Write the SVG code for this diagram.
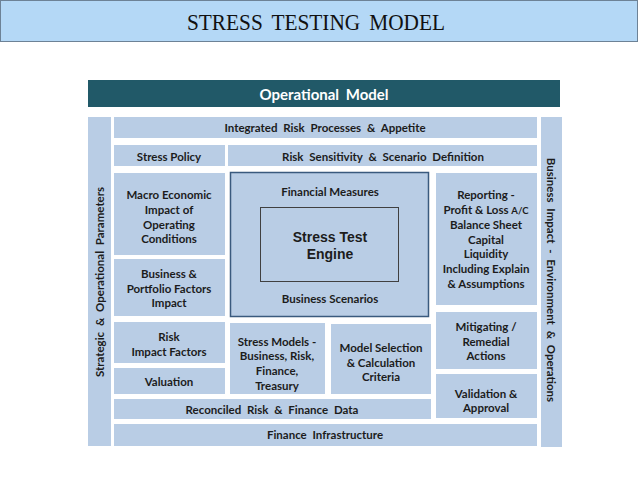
<svg xmlns="http://www.w3.org/2000/svg" width="638" height="478" viewBox="0 0 638 478">
<style>
.b{fill:#b9cde5}
.t{font-family:Lato,"Liberation Sans",sans-serif;font-weight:bold;font-size:11.5px;fill:#1c1c1c;text-anchor:middle}
.w{word-spacing:3px}
.e{font-family:"Liberation Sans",Arial,sans-serif;font-weight:bold;font-size:14px;fill:#1c1c1c;text-anchor:middle}
</style>
<rect width="638" height="478" fill="#ffffff"/>
<g id="title">
<rect x="0.5" y="0.5" width="637" height="41" fill="#b4d8f6" stroke="#6d8296" stroke-width="1"/>
<text x="316" y="30" font-family="Liberation Serif,serif" font-size="23" fill="#111" text-anchor="middle" word-spacing="4" textLength="258" lengthAdjust="spacingAndGlyphs">STRESS TESTING MODEL</text>
</g>
<g id="operational-model">
<rect x="88" y="80" width="472" height="27" fill="#215968"/>
<text x="324" y="100" font-family="Lato,sans-serif" font-weight="bold" font-size="15" fill="#ffffff" text-anchor="middle" word-spacing="3">Operational Model</text>
</g>
<g id="strategic">
<rect class="b" x="88" y="117" width="23" height="329"/>
<text class="t w" transform="translate(104,282) rotate(-90)">Strategic &amp; Operational Parameters</text>
</g>
<g id="business-impact">
<rect class="b" x="541" y="117" width="21" height="330"/>
<text class="t w" transform="translate(547,280) rotate(90)">Business Impact - Environment &amp; Operations</text>
</g>
<g id="integrated">
<rect class="b" x="114" y="117" width="423" height="21"/>
<text class="t w" x="325" y="132">Integrated Risk Processes &amp; Appetite</text>
</g>
<g id="stress-policy">
<rect class="b" x="114" y="145" width="111" height="21"/>
<text class="t" x="169" y="161">Stress Policy</text>
</g>
<g id="risk-sensitivity">
<rect class="b" x="228" y="145" width="309" height="21"/>
<text class="t w" x="383" y="161">Risk Sensitivity &amp; Scenario Definition</text>
</g>
<g id="macro">
<rect class="b" x="114" y="173" width="111" height="82"/>
<text class="t" x="169" y="199">Macro Economic</text>
<text class="t" x="169" y="214">Impact of</text>
<text class="t" x="169" y="229">Operating</text>
<text class="t" x="169" y="243">Conditions</text>
</g>
<g id="business-portfolio">
<rect class="b" x="114" y="259" width="111" height="57"/>
<text class="t" x="169" y="278">Business &amp;</text>
<text class="t" x="169" y="293">Portfolio Factors</text>
<text class="t" x="169" y="307">Impact</text>
</g>
<g id="engine">
<rect class="b" x="230.5" y="172.5" width="198" height="144" stroke="#3a5a7e" stroke-width="1.5"/>
<text class="t" x="330" y="196">Financial Measures</text>
<rect class="b" x="260.5" y="207.5" width="138" height="74" stroke="#404040" stroke-width="1"/>
<text class="e" x="330" y="242">Stress Test</text>
<text class="e" x="330" y="259">Engine</text>
<text class="t" x="330" y="303">Business Scenarios</text>
</g>
<g id="reporting">
<rect class="b" x="436" y="173" width="101" height="132"/>
<text class="t" x="486" y="199">Reporting -</text>
<text class="t" x="486" y="214">Profit &amp; Loss <tspan font-size="9.5">A/C</tspan></text>
<text class="t" x="486" y="229">Balance Sheet</text>
<text class="t" x="486" y="244">Capital</text>
<text class="t" x="486" y="258">Liquidity</text>
<text class="t" x="486" y="273">Including Explain</text>
<text class="t" x="486" y="288">&amp; Assumptions</text>
</g>
<g id="risk-impact">
<rect class="b" x="114" y="322" width="111" height="41"/>
<text class="t" x="169" y="341">Risk</text>
<text class="t" x="169" y="356">Impact Factors</text>
</g>
<g id="valuation">
<rect class="b" x="114" y="368" width="111" height="26"/>
<text class="t" x="169" y="386">Valuation</text>
</g>
<g id="stress-models">
<rect class="b" x="230" y="323" width="95" height="71"/>
<text class="t" x="277" y="346">Stress Models -</text>
<text class="t" x="277" y="360">Business, Risk,</text>
<text class="t" x="277" y="375">Finance,</text>
<text class="t" x="277" y="390">Treasury</text>
</g>
<g id="model-selection">
<rect class="b" x="331" y="324" width="100" height="70"/>
<text class="t" x="381" y="352">Model Selection</text>
<text class="t" x="381" y="367">&amp; Calculation</text>
<text class="t" x="381" y="381">Criteria</text>
</g>
<g id="mitigating">
<rect class="b" x="436" y="312" width="101" height="57"/>
<text class="t" x="486" y="331">Mitigating /</text>
<text class="t" x="486" y="346">Remedial</text>
<text class="t" x="486" y="360">Actions</text>
</g>
<g id="validation">
<rect class="b" x="436" y="374" width="101" height="44"/>
<text class="t" x="486" y="398">Validation &amp;</text>
<text class="t" x="486" y="412">Approval</text>
</g>
<g id="reconciled">
<rect class="b" x="114" y="399" width="317" height="20"/>
<text class="t w" x="272" y="414">Reconciled Risk &amp; Finance Data</text>
</g>
<g id="finance-infra">
<rect class="b" x="114" y="424" width="423" height="22"/>
<text class="t w" x="325" y="439">Finance Infrastructure</text>
</g>
<g id="connectors"></g>
</svg>
